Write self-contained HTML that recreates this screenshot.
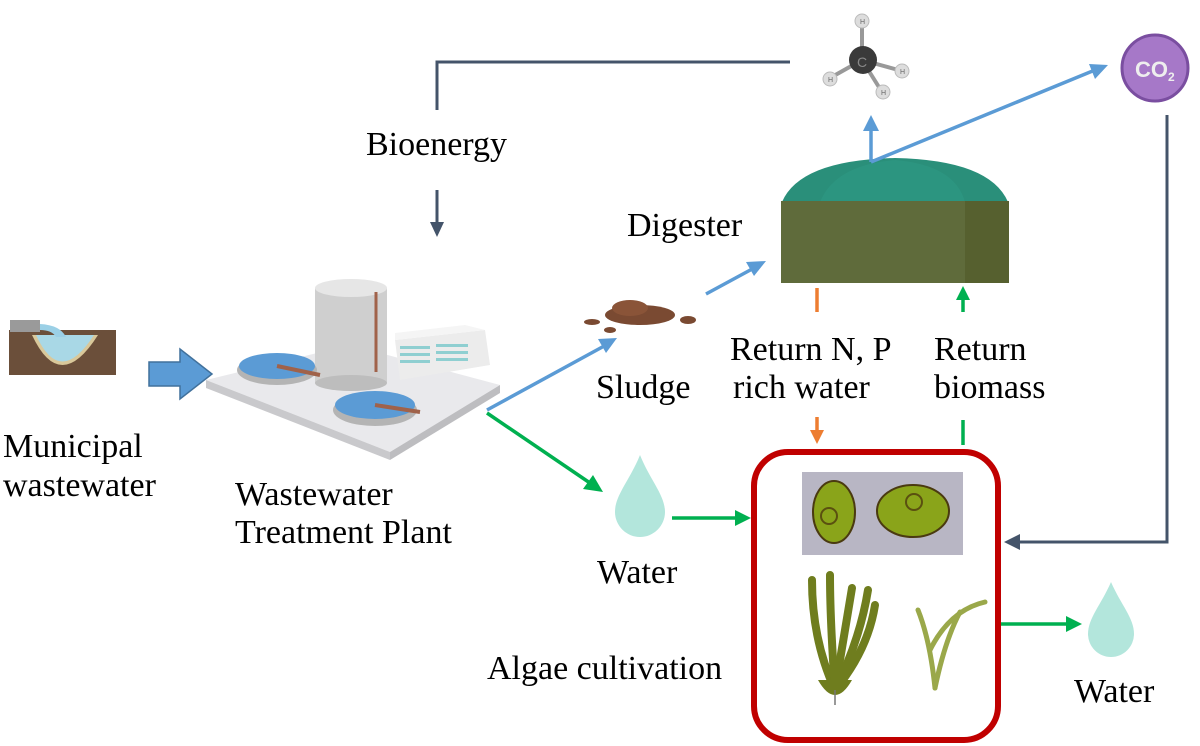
<!DOCTYPE html>
<html><head><meta charset="utf-8"><style>
html,body{margin:0;padding:0;background:#fff;}
svg{display:block;}
text{font-family:"Liberation Serif",serif;font-size:34px;fill:#000;}
</style></head><body>
<svg width="1200" height="746" viewBox="0 0 1200 746" xmlns="http://www.w3.org/2000/svg">
<!-- Bioenergy dark lines -->
<polyline points="437,110 437,62 790,62" fill="none" stroke="#44546a" stroke-width="3"/>
<line x1="437" y1="190" x2="437" y2="225" stroke="#44546a" stroke-width="3"/>
<polygon points="430,222 444,222 437,237" fill="#44546a"/>
<polyline points="1167,115 1167,542 1018,542" fill="none" stroke="#44546a" stroke-width="3"/>
<polygon points="1004,542 1020,534 1020,550" fill="#44546a"/>

<!-- Municipal wastewater icon -->
<rect x="9" y="330" width="107" height="45" fill="#6b4f3a"/>
<path d="M32,335 Q60,395 98,335 Z" fill="#d9c89a"/>
<path d="M36,335 Q60,388 94,335 Z" fill="#a9d8e6"/>
<rect x="10" y="320" width="30" height="12" fill="#9a9a9a"/>
<path d="M40,324 Q60,325 66,337 L56,337 Q52,330 40,330 Z" fill="#9bd0e6"/>
<polygon points="149,362 180,362 180,349 212,374 180,399 180,386 149,386" fill="#5b9bd5" stroke="#41719c" stroke-width="1.5"/>

<!-- WWTP -->
<polygon points="206,380 350,345 500,385 390,452" fill="#e9e9ec"/>
<polygon points="206,380 390,452 390,460 206,388" fill="#c9c9cc"/>
<polygon points="390,452 500,385 500,393 390,460" fill="#bdbdc0"/>
<rect x="315" y="288" width="72" height="95" fill="#cfcfcf"/>
<ellipse cx="351" cy="288" rx="36" ry="9" fill="#e6e6e6"/>
<ellipse cx="351" cy="383" rx="36" ry="8" fill="#bdbdbd"/>
<line x1="376" y1="292" x2="376" y2="372" stroke="#a0624a" stroke-width="3"/>
<polygon points="395,340 485,330 490,365 400,380" fill="#ececec"/>
<polygon points="395,340 485,330 465,325 395,333" fill="#f5f5f5"/>
<rect x="400" y="346" width="30" height="3" fill="#8fcfd1"/><rect x="400" y="353" width="30" height="3" fill="#8fcfd1"/><rect x="400" y="360" width="30" height="3" fill="#8fcfd1"/>
<rect x="436" y="344" width="32" height="3" fill="#8fcfd1"/><rect x="436" y="351" width="32" height="3" fill="#8fcfd1"/><rect x="436" y="358" width="32" height="3" fill="#8fcfd1"/>
<ellipse cx="277" cy="370" rx="40" ry="15" fill="#b4b4b4"/>
<ellipse cx="277" cy="366" rx="38" ry="13" fill="#5b9bd5"/>
<line x1="277" y1="366" x2="320" y2="375" stroke="#a0624a" stroke-width="4"/>
<ellipse cx="375" cy="410" rx="42" ry="16" fill="#b4b4b4"/>
<ellipse cx="375" cy="405" rx="40" ry="14" fill="#5b9bd5"/>
<line x1="375" y1="405" x2="420" y2="412" stroke="#a0624a" stroke-width="4"/>

<!-- Sludge -->
<ellipse cx="640" cy="315" rx="35" ry="10" fill="#7a4a32"/>
<ellipse cx="630" cy="308" rx="18" ry="8" fill="#8a5438"/>
<ellipse cx="592" cy="322" rx="8" ry="3" fill="#7a4a32"/>
<ellipse cx="688" cy="320" rx="8" ry="4" fill="#7a4a32"/>
<ellipse cx="610" cy="330" rx="6" ry="3" fill="#7a4a32"/>

<!-- blue arrows -->
<line x1="487" y1="410" x2="606" y2="345" stroke="#5b9bd5" stroke-width="3.5"/>
<polygon points="617,338 598,339 606,353" fill="#5b9bd5"/>
<line x1="706" y1="294" x2="754" y2="268" stroke="#5b9bd5" stroke-width="3.5"/>
<polygon points="766,261 746,262 754,276" fill="#5b9bd5"/>
<!-- green arrows -->
<line x1="487" y1="413" x2="590" y2="483" stroke="#00b050" stroke-width="3.5"/>
<polygon points="603,492 583,489 593,475" fill="#00b050"/>
<line x1="672" y1="518" x2="738" y2="518" stroke="#00b050" stroke-width="3.5"/>
<polygon points="751,518 735,510 735,526" fill="#00b050"/>
<line x1="1000" y1="624" x2="1068" y2="624" stroke="#00b050" stroke-width="3.5"/>
<polygon points="1082,624 1066,616 1066,632" fill="#00b050"/>

<!-- water drops -->
<path d="M640,455 C630,480 615,495 615,512 A25,25 0 0 0 665,512 C665,495 650,480 640,455 Z" fill="#b3e6dc"/>
<path d="M1111,582 C1101,605 1088,618 1088,634 A23,23 0 0 0 1134,634 C1134,618 1121,605 1111,582 Z" fill="#b3e6dc"/>

<!-- Digester -->
<path d="M782,202 Q800,160 895,158 Q990,160 1008,202 Z" fill="#2a8f7a"/>
<path d="M820,202 Q835,165 895,160 Q955,165 965,202 Z" fill="#2f9a83" opacity="0.6"/>
<rect x="781" y="201" width="228" height="82" fill="#5f6b3b"/>
<rect x="965" y="201" width="44" height="82" fill="#56602f"/>
<line x1="871" y1="162" x2="871" y2="128" stroke="#5b9bd5" stroke-width="3.5"/>
<polygon points="871,115 863,131 879,131" fill="#5b9bd5"/>
<line x1="871" y1="162" x2="1095" y2="70" stroke="#5b9bd5" stroke-width="3.5"/>
<polygon points="1108,65 1089,64 1095,79" fill="#5b9bd5"/>

<!-- methane molecule -->
<line x1="862" y1="60" x2="862" y2="22" stroke="#999" stroke-width="4"/>
<line x1="862" y1="60" x2="830" y2="78" stroke="#999" stroke-width="4"/>
<line x1="862" y1="60" x2="902" y2="71" stroke="#999" stroke-width="4"/>
<line x1="862" y1="60" x2="882" y2="92" stroke="#999" stroke-width="4"/>
<circle cx="863" cy="60" r="14" fill="#3a3a3a"/>
<text x="857" y="67" style="font-family:'Liberation Sans',sans-serif;font-size:14px;fill:#888">C</text>
<circle cx="862" cy="21" r="7" fill="#ddd" stroke="#bbb"/><circle cx="830" cy="79" r="7" fill="#ddd" stroke="#bbb"/>
<circle cx="902" cy="71" r="7" fill="#ddd" stroke="#bbb"/><circle cx="883" cy="92" r="7" fill="#ddd" stroke="#bbb"/>
<text x="860" y="24" style="font-size:7px;font-family:'Liberation Sans',sans-serif;fill:#666">H</text><text x="828" y="82" style="font-size:7px;font-family:'Liberation Sans',sans-serif;fill:#666">H</text><text x="900" y="74" style="font-size:7px;font-family:'Liberation Sans',sans-serif;fill:#666">H</text><text x="881" y="95" style="font-size:7px;font-family:'Liberation Sans',sans-serif;fill:#666">H</text>

<!-- CO2 -->
<circle cx="1155" cy="68" r="33" fill="#a678c8" stroke="#7a4ea0" stroke-width="3"/>
<text x="1135" y="77" style="font-family:'Liberation Sans',sans-serif;font-size:22px;font-weight:bold;fill:#eee">CO<tspan style="font-size:12px" dy="4">2</tspan></text>

<!-- dashed connectors -->
<line x1="817" y1="288" x2="817" y2="312" stroke="#ed7d31" stroke-width="3.5"/>
<line x1="817" y1="417" x2="817" y2="432" stroke="#ed7d31" stroke-width="3.5"/>
<polygon points="817,444 810,430 824,430" fill="#ed7d31"/>
<polygon points="963,286 956,300 970,300" fill="#00b050"/>
<line x1="963" y1="298" x2="963" y2="312" stroke="#00b050" stroke-width="3.5"/>
<line x1="963" y1="420" x2="963" y2="445" stroke="#00b050" stroke-width="3.5"/>

<!-- algae box -->
<rect x="754" y="452" width="244" height="288" rx="34" fill="#fff" stroke="#c00000" stroke-width="6"/>
<rect x="802" y="472" width="161" height="83" fill="#b8b6c4"/>
<ellipse cx="834" cy="512" rx="21" ry="31" fill="#8aa41a" stroke="#4a3a10" stroke-width="2"/>
<ellipse cx="913" cy="511" rx="36" ry="26" fill="#8aa41a" stroke="#4a3a10" stroke-width="2"/>
<circle cx="829" cy="516" r="8" fill="none" stroke="#5a5010" stroke-width="2"/>
<circle cx="914" cy="502" r="8" fill="none" stroke="#5a5010" stroke-width="2"/>
<g stroke="#6f7d1e" stroke-width="8" fill="none" stroke-linecap="round">
<path d="M835,690 Q812,640 812,580"/><path d="M835,690 Q830,620 830,575"/><path d="M835,690 Q845,630 852,588"/><path d="M835,690 Q860,640 868,590"/><path d="M835,690 Q868,650 875,605"/>
</g>
<path d="M818,680 Q835,710 852,680 Z" fill="#6f7d1e"/>
<line x1="835" y1="690" x2="835" y2="705" stroke="#777" stroke-width="1.5"/>
<g stroke="#9aa84a" stroke-width="5" fill="none" stroke-linecap="round">
<path d="M935,688 Q930,640 918,610"/><path d="M935,688 Q945,640 960,612"/><path d="M930,650 Q950,610 985,602"/>
</g>

<!-- labels -->
<text x="366" y="155">Bioenergy</text>
<text x="627" y="236">Digester</text>
<text x="596" y="398">Sludge</text>
<text x="730" y="360">Return N, P</text>
<text x="733" y="398">rich water</text>
<text x="934" y="360">Return</text>
<text x="934" y="398">biomass</text>
<text x="3" y="457">Municipal</text>
<text x="3" y="496">wastewater</text>
<text x="235" y="505">Wastewater</text>
<text x="235" y="543">Treatment Plant</text>
<text x="597" y="583">Water</text>
<text x="487" y="679">Algae cultivation</text>
<text x="1074" y="702">Water</text>
</svg>
</body></html>
